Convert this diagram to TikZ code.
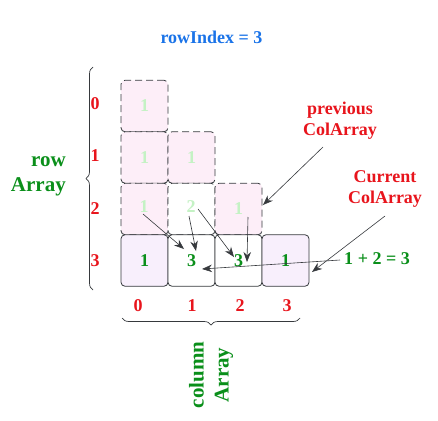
\documentclass[tikz,border=0pt]{standalone}
\usepackage{fontspec}
\setmainfont{Liberation Serif}
\usetikzlibrary{arrows.meta,decorations.pathreplacing}
\definecolor{redlbl}{HTML}{E8141C}
\definecolor{grn}{HTML}{0A8F1A}
\definecolor{fgrn}{HTML}{C4F2C4}
\definecolor{blu}{HTML}{1A73E8}
\definecolor{pinkf}{HTML}{FDEEF8}
\definecolor{lavf}{HTML}{F8EFFC}
\definecolor{edge}{HTML}{36393D}
\tikzset{
  cell/.style={rectangle, rounded corners=4pt, draw=edge, line width=0.8pt, minimum width=47pt, minimum height=51.5pt, inner sep=0pt, font=\bfseries\fontsize{18}{21}\selectfont},
  dcell/.style={cell, dash pattern=on 7pt off 4pt},
  lbl/.style={font=\bfseries\fontsize{18}{21}\selectfont, text=redlbl, inner sep=0pt},
  glbl/.style={font=\bfseries\fontsize{21}{25}\selectfont, text=grn, inner sep=0pt},
  ann/.style={font=\bfseries\fontsize{18}{21}\selectfont, text=redlbl, align=center, inner sep=0pt},
  arr/.style={-{Stealth[length=10pt,width=7.5pt]}, draw=edge, line width=0.6pt},
  brc/.style={decorate, decoration={brace, amplitude=7pt}, draw=edge, line width=0.7pt}
}
\begin{document}
\begin{tikzpicture}[x=1pt,y=-1pt]
\useasboundingbox (0,0) rectangle (438,420);
% title
\node[font=\bfseries\fontsize{18}{21}\selectfont, text=blu, inner sep=0pt] (title) at (211.5,37) {rowIndex = 3};
% cells
\node[dcell, fill=pinkf, text=fgrn] (c00) at (144.5,106) {1};
\node[dcell, fill=pinkf, text=fgrn] (c10) at (144.5,157.5) {1};
\node[dcell, fill=pinkf, text=fgrn] (c11) at (191.5,157.5) {1};
\node[dcell, fill=pinkf, text=fgrn] (c20) at (144.5,209) {};
\node[dcell, fill=white, text=fgrn] (c21) at (191.5,209) {};
\node[dcell, fill=pinkf, text=fgrn] (c22) at (238.5,209) {1};
\node[cell, fill=lavf, text=grn] (c30) at (144.5,260.5) {1};
\node[cell, fill=white, text=grn] (c31) at (191.5,260.5) {3};
\node[cell, fill=white, text=grn] (c32) at (238.5,260.5) {3};
\node[cell, fill=lavf, text=grn] (c33) at (285.5,260.5) {1};
\node[font=\bfseries\fontsize{18}{21}\selectfont, text=fgrn, inner sep=0pt] (t20) at (144,207) {1};
\node[font=\bfseries\fontsize{18}{21}\selectfont, text=fgrn, inner sep=0pt] (t21) at (191,207) {2};
% row labels
\node[lbl] (r0) at (95,104) {0};
\node[lbl] (r1) at (95,156) {1};
\node[lbl] (r2) at (95,209) {2};
\node[lbl] (r3) at (95,261) {3};
% column labels
\node[lbl] (k0) at (138,306) {0};
\node[lbl] (k1) at (192,306) {1};
\node[lbl] (k2) at (240,306) {2};
\node[lbl] (k3) at (287,306) {3};
% braces
\coordinate (lb1) at (93,290);
\coordinate (lb2) at (93,67);
\draw[brc] (lb1) -- (lb2);
\coordinate (bb1) at (300,318);
\coordinate (bb2) at (122,318);
\draw[brc] (bb1) -- (bb2);
% group labels
\node[glbl, align=right, anchor=east] (rowarr) at (66,176) {row\\Array};
\node[glbl, align=center, rotate=90] (colarr) at (211,375) {column\\Array};
% annotations
\node[ann] (prev) at (340,121) {previous\\ColArray};
\node[ann] (curr) at (385,189) {Current\\ColArray};
\node[font=\bfseries\fontsize{18}{21}\selectfont, text=grn, inner sep=0pt] (sum) at (377,259) {1 + 2 = 3};
% arrows
\coordinate (a1s) at (143,214); \coordinate (a1e) at (184,249);
\coordinate (a2s) at (189,216); \coordinate (a2e) at (196,251);
\coordinate (a3s) at (198,209); \coordinate (a3e) at (234,257);
\coordinate (a4s) at (248,217); \coordinate (a4e) at (247,262);
\coordinate (a5s) at (340,260); \coordinate (a5e) at (202,269);
\coordinate (a6s) at (323,147); \coordinate (a6e) at (263,205);
\coordinate (a7s) at (385,216); \coordinate (a7e) at (312,272);
\draw[arr] (a1s) -- (a1e);
\draw[arr] (a2s) -- (a2e);
\draw[arr] (a3s) -- (a3e);
\draw[arr] (a4s) -- (a4e);
\draw[arr] (a5s) -- (a5e);
\draw[arr] (a6s) -- (a6e);
\draw[arr] (a7s) -- (a7e);
\end{tikzpicture}
\end{document}
